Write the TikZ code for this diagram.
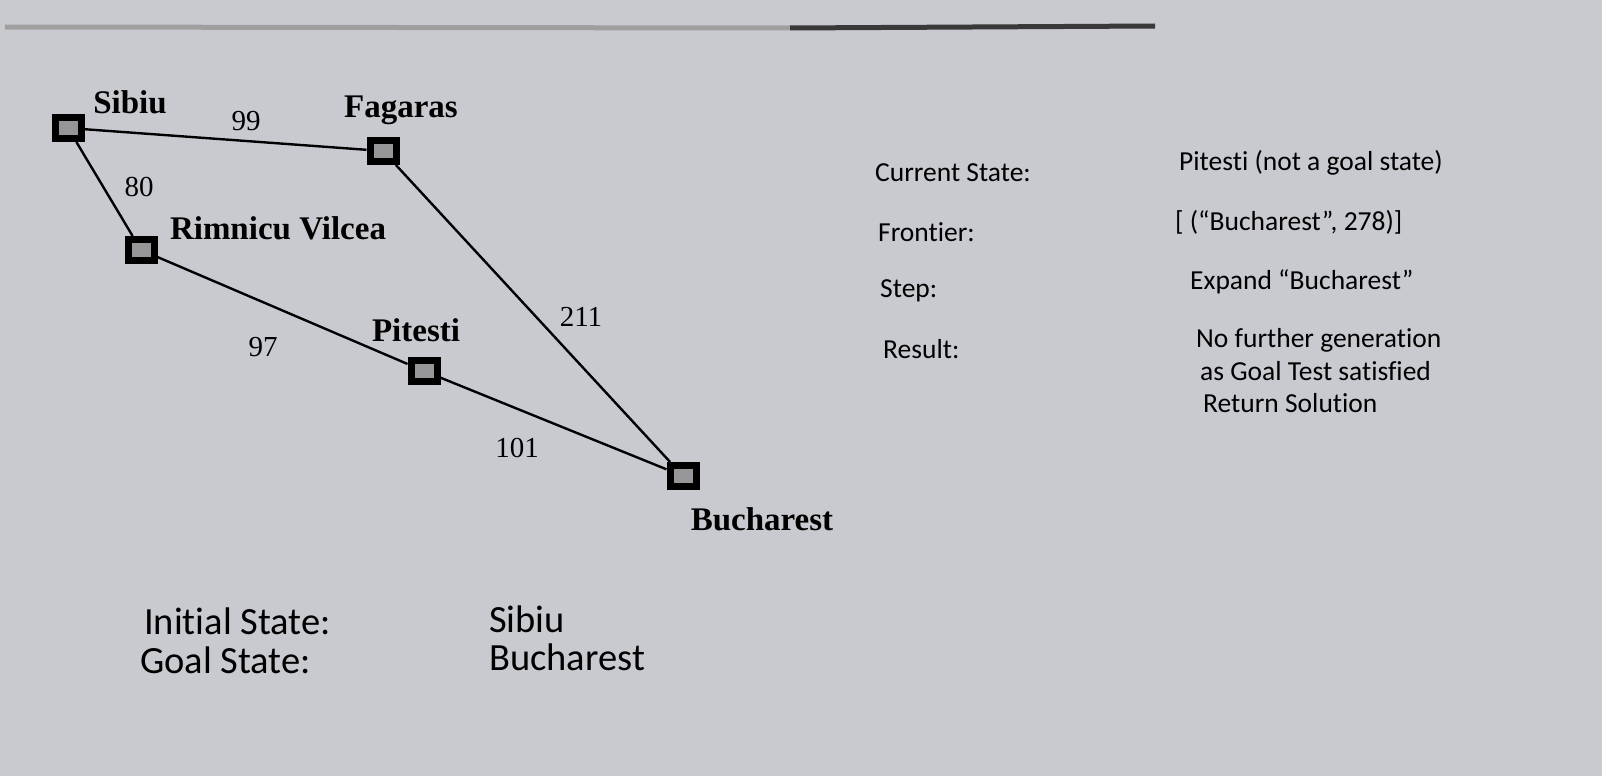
\documentclass[tikz,border=0pt]{standalone}
\usepackage{fontspec}
\setmainfont{Liberation Serif}
\newfontfamily\notefont[Ligatures=NoCommon]{Carlito}
\usetikzlibrary{positioning,calc}
\definecolor{paper}{RGB}{201,202,207}
\definecolor{cityfill}{RGB}{150,150,152}

\begin{document}
\begin{tikzpicture}[x=1pt, y=-1pt,
    city/.style={rectangle, draw=black, line width=7pt, fill=cityfill, minimum width=26pt, minimum height=21pt, inner sep=0pt},
    cityname/.style={font=\fontsize{33}{36}\selectfont\bfseries, inner sep=0pt},
    cost/.style={font=\fontsize{29}{32}\selectfont, inner sep=0pt},
    road/.style={line width=2.4pt},
    note/.style={font=\notefont\fontsize{27.5}{30}\selectfont, inner sep=0pt, anchor=west},
    bignote/.style={font=\notefont\fontsize{38.5}{40}\selectfont, inner sep=0pt, anchor=west}]
    \fill[paper] (0,0) rectangle (1602,776);
    \useasboundingbox (0,0) rectangle (1602,776);

    % header rule
    \draw[line width=5pt, gray!75] (5,27) -- (790,28);
    \draw[line width=5pt, gray!45!black] (790,28) -- (1155,26);

    % map
    \node[city] (sibiu) at (68,128) {};
    \node[city] (fagaras) at (383,151) {};
    \node[city] (rimnicu) at (141,250) {};
    \node[city] (pitesti) at (424,371) {};
    \node[city] (bucharest) at (683,476) {};

    \node[cityname] (sibiulbl) at (130,102) {Sibiu};
    \node[cityname] (fagaraslbl) at (401,110) {Fagaras};
    \node[cityname] (rimnicublbl) at (278,228) {Rimnicu Vilcea};
    \node[cityname] (pitestilbl) at (416,330) {Pitesti};
    \node[cityname] (bucharestlbl) at (762,519) {Bucharest};

    \draw[road] (sibiu) -- (fagaras);
    \draw[road] (sibiu) -- (rimnicu);
    \draw[road] (rimnicu) -- (pitesti);
    \draw[road] (pitesti) -- (bucharest);
    \draw[road] (fagaras) -- (bucharest);

    \node[cost] (c99) at (246,121) {99};
    \node[cost] (c80) at (139,187) {80};
    \node[cost] (c97) at (263,347) {97};
    \node[cost] (c211) at (581,317) {211};
    \node[cost] (c101) at (517,448) {101};

    % search state
    \node[note] (current) at (875,173) {Current State:};
    \node[note] (frontier) at (878,232) {Frontier:};
    \node[note] (step) at (880,291) {Step:};
    \node[note] (result) at (883,349) {Result:};

    \node[note] (currentval) at (1179,163) {Pitesti (not a goal state)};
    \node[note] (frontierval) at (1175,222) {[ (“Bucharest”, 278)]};
    \node[note] (stepval) at (1190,282) {Expand “Bucharest”};
    \node[note] (resultval) at (1196,340) {No further generation};
    \node[note] (resultval2) at (1200,371) {as Goal Test satisfied};
    \node[note] (resultval3) at (1203,403) {Return Solution};

    % problem
    \node[bignote] (initial) at (144,621) {Initial State:};
    \node[bignote] (goal) at (140,660) {Goal State:};
    \node[bignote] (initialval) at (489,619) {Sibiu};
    \node[bignote] (goalval) at (489,657) {Bucharest};
\end{tikzpicture}
\end{document}
